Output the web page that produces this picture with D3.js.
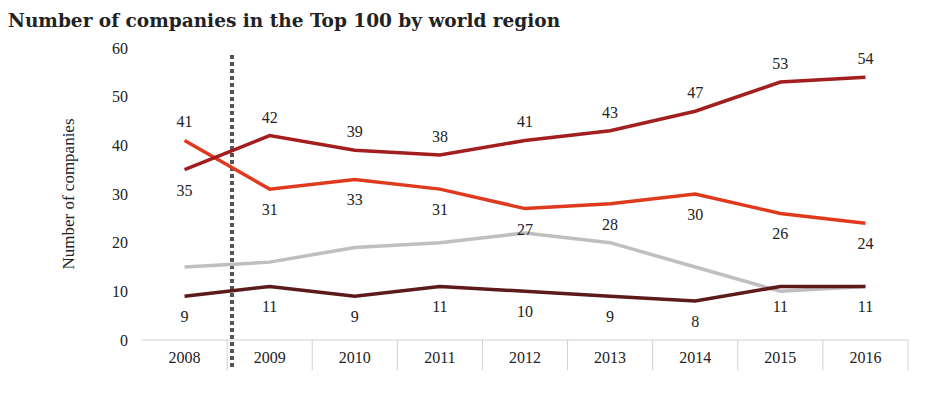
<!DOCTYPE html>
<html><head><meta charset="utf-8">
<script src="https://cdn.jsdelivr.net/npm/d3@7"></script>
<style>body{margin:0;background:#fff}</style>
</head><body>
<script>
const years = ["2008","2009","2010","2011","2012","2013","2014","2015","2016"];
const yTicks = [0,10,20,30,40,50,60];
const northAmerica = [35,42,39,38,41,43,47,53,54];
const europe = [41,31,33,31,27,28,30,26,24];
const other = [15,16,19,20,22,20,15,10,11];
const asia = [9,11,9,11,10,9,8,11,11];

const series = [
  {values: other, color: "#bfbfbf", labels: null},
  {values: asia, color: "#5c1a1a", labels: asia.map(() => "below")},
  {values: europe, color: "#e03a1e", labels: europe.map((d,i) => i === 0 ? "above" : "below")},
  {values: northAmerica, color: "#a31f1f", labels: northAmerica.map((d,i) => i === 0 ? "below" : "above")}
];

const W = 934, H = 409;
const svg = d3.select("body").append("svg").attr("width", W).attr("height", H)
  .style("font-family", "'Liberation Serif', serif");

const x = d3.scaleBand().domain(years).range([142, 908]);
const y = d3.scaleLinear().domain([0, 60]).range([340, 48]);

svg.append("text").attr("x", 8).attr("y", 27)
  .attr("font-family", "'DejaVu Serif', serif").attr("font-weight", "bold")
  .attr("font-size", 18.5).attr("fill", "#222")
  .text("Number of companies in the Top 100 by world region");

svg.append("g")
  .attr("transform", "translate(132,0)")
  .call(d3.axisLeft(y).tickValues(yTicks).tickSize(0).tickPadding(4))
  .call(g => g.select(".domain").remove())
  .selectAll("text").attr("font-size", 16).attr("font-family", "'Liberation Serif', serif").attr("fill", "#222");

svg.append("text")
  .attr("transform", `translate(74,${y(30)}) rotate(-90)`)
  .attr("text-anchor", "middle").attr("font-size", 17).attr("fill", "#222")
  .text("Number of companies");

// x axis
svg.append("line").attr("x1", x.range()[0]).attr("x2", x.range()[1])
  .attr("y1", y(0)).attr("y2", y(0)).attr("stroke", "#d0d0d0");
svg.append("g").selectAll("line").data(years.slice(1).concat(["end"])).join("line")
  .attr("x1", d => d === "end" ? x.range()[1] : x(d)).attr("x2", d => d === "end" ? x.range()[1] : x(d))
  .attr("y1", y(0)).attr("y2", 370).attr("stroke", "#d0d0d0");
svg.append("g").selectAll("text").data(years).join("text")
  .attr("x", d => x(d) + x.bandwidth() / 2).attr("y", 363)
  .attr("text-anchor", "middle").attr("font-size", 16).attr("fill", "#222")
  .text(d => d);

// dashed divider
svg.append("line").attr("x1", 232).attr("x2", 232).attr("y1", 55).attr("y2", 370)
  .attr("stroke", "#555").attr("stroke-width", 4).attr("stroke-dasharray", "4,3");

const line = d3.line().x((d, i) => x(years[i]) + x.bandwidth() / 2).y(d => y(d));
series.forEach(s => {
  svg.append("path").datum(s.values).attr("d", line)
    .attr("fill", "none").attr("stroke", s.color).attr("stroke-width", 3.5);
});
series.forEach(s => {
  if (!s.labels) return;
  svg.append("g").selectAll("text").data(s.values).join("text")
    .attr("x", (d, i) => x(years[i]) + x.bandwidth() / 2)
    .attr("y", (d, i) => y(d) + (s.labels[i] === "above" ? -13 : 26))
    .attr("text-anchor", "middle").attr("font-size", 16).attr("fill", "#222")
    .text(d => d);
});
</script>
</body></html>
